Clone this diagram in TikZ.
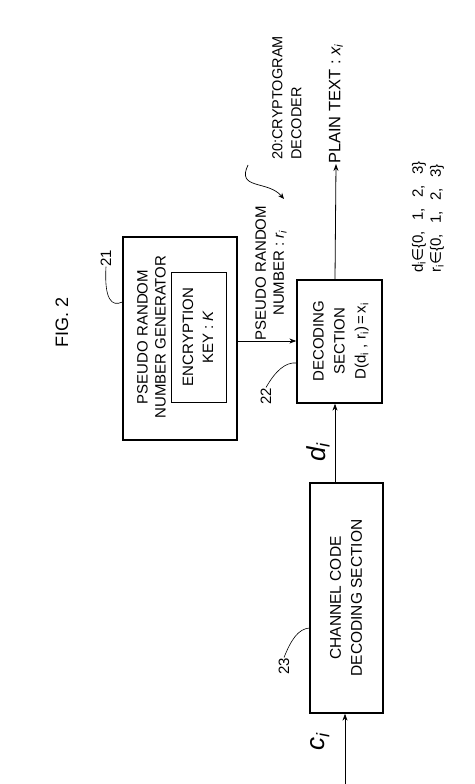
\documentclass[tikz,border=0pt]{standalone}
\usepackage{fontspec}
\setmainfont{Liberation Sans}
\newfontfamily\symf{DejaVu Sans}
\usetikzlibrary{arrows.meta}
\tikzset{
  box/.style={draw, line width=1.3pt, inner sep=0pt},
  arr/.style={line width=0.8pt, -{Stealth[length=7pt,width=5pt]}},
  lead/.style={line width=0.6pt},
  rtxt/.style={rotate=90, font=\fontsize{15}{18}\selectfont, inner sep=0pt, align=center},
  bigit/.style={rotate=90, font=\itshape\fontsize{26}{26}\selectfont, inner sep=0pt},
}
\newcommand{\gapsp}{\hspace{0.7em}}
\begin{document}
\begin{tikzpicture}[x=1pt,y=-1pt]
\useasboundingbox (0,0) rectangle (474,784);
% FIG label
\node[rtxt, font=\fontsize{18}{20}\selectfont] (fig) at (62,322) {FIG. 2};
% boxes
\node[box, minimum width=114pt, minimum height=203pt] (prng) at (180,338.5) {};
\node[rtxt] (prngt) at (151.5,337) {PSEUDO RANDOM\\NUMBER GENERATOR};
\node[box, line width=1pt, minimum width=55pt, minimum height=130pt] (key) at (198.5,337) {};
\node[rtxt, font=\fontsize{15}{20}\selectfont] (keyt) at (198,337) {ENCRYPTION\\KEY : \textit{K}};
\node[box, minimum width=85pt, minimum height=123pt] (dec) at (339.5,341.5) {};
\node[rtxt, font=\fontsize{15}{21}\selectfont] (dect) at (341,341) {DECODING\\SECTION\\D(d\textsubscript{i} , r\textsubscript{i})\,=\,x\textsubscript{i}};
\node[box, minimum width=73pt, minimum height=230pt] (ch) at (346.5,598) {};
\node[rtxt, font=\fontsize{15.5}{21}\selectfont] (cht) at (346,598) {CHANNEL CODE\\DECODING SECTION};
% reference numerals
\node[rtxt] (n21) at (106,258) {21};
\node[rtxt] (n22) at (266,396) {22};
\node[rtxt] (n23) at (284,666) {23};
\node[rtxt, anchor=west, align=left, font=\fontsize{14.5}{19}\selectfont] (n20) at (287,160) {20:CRYPTOGRAM\\DECODER};
\draw[lead] (n21.west) .. controls (104,300) and (112,307) .. (prng.west |- 0,302);
\draw[lead] (n22.east) .. controls (276,370) and (286,362) .. (dec.west |- 0,363);
\draw[lead] (n23.east) .. controls (291,640) and (298,629) .. (ch.west |- 0,628);
\coordinate (c20a) at (248,165);
\coordinate (c20b) at (284,199);
\draw[line width=0.7pt, -{Stealth[length=6pt,width=5pt]}] (c20a) .. controls (236,190) and (268,180) .. (c20b);
% connectors
\coordinate (ax) at (335,0);
\draw[arr] (prng.east |- 0,341) -- (dec.west |- 0,341);
\node[rtxt] (prl) at (271,273) {PSEUDO RANDOM\\NUMBER : \textit{r\textsubscript{i}}};
\draw[arr] (ch.north -| ax) -- (dec.south -| ax);
\node[bigit] (dl) at (318,452) {d\textsubscript{i}};
\node[rtxt, anchor=west, font=\fontsize{16.5}{18}\selectfont] (pt) at (336,164) {PLAIN TEXT : \textit{x\textsubscript{i}}};
\draw[arr] (dec.north -| ax) -- (pt.west);
\coordinate (cin) at (345,784);
\draw[arr] (cin) -- (ch.south -| cin);
\node[bigit] (cl) at (320,742) {c\textsubscript{i}};
% sets
\node[rtxt, anchor=west, align=left, font=\fontsize{15}{18}\selectfont] (sets) at (428,273) {d\textsubscript{i}{\symf ∈}\{0,\gapsp1,\gapsp2,\gapsp3\}\\r\textsubscript{i}{\symf ∈}\{0,\gapsp1,\gapsp2,\gapsp3\}};
\end{tikzpicture}
\end{document}
